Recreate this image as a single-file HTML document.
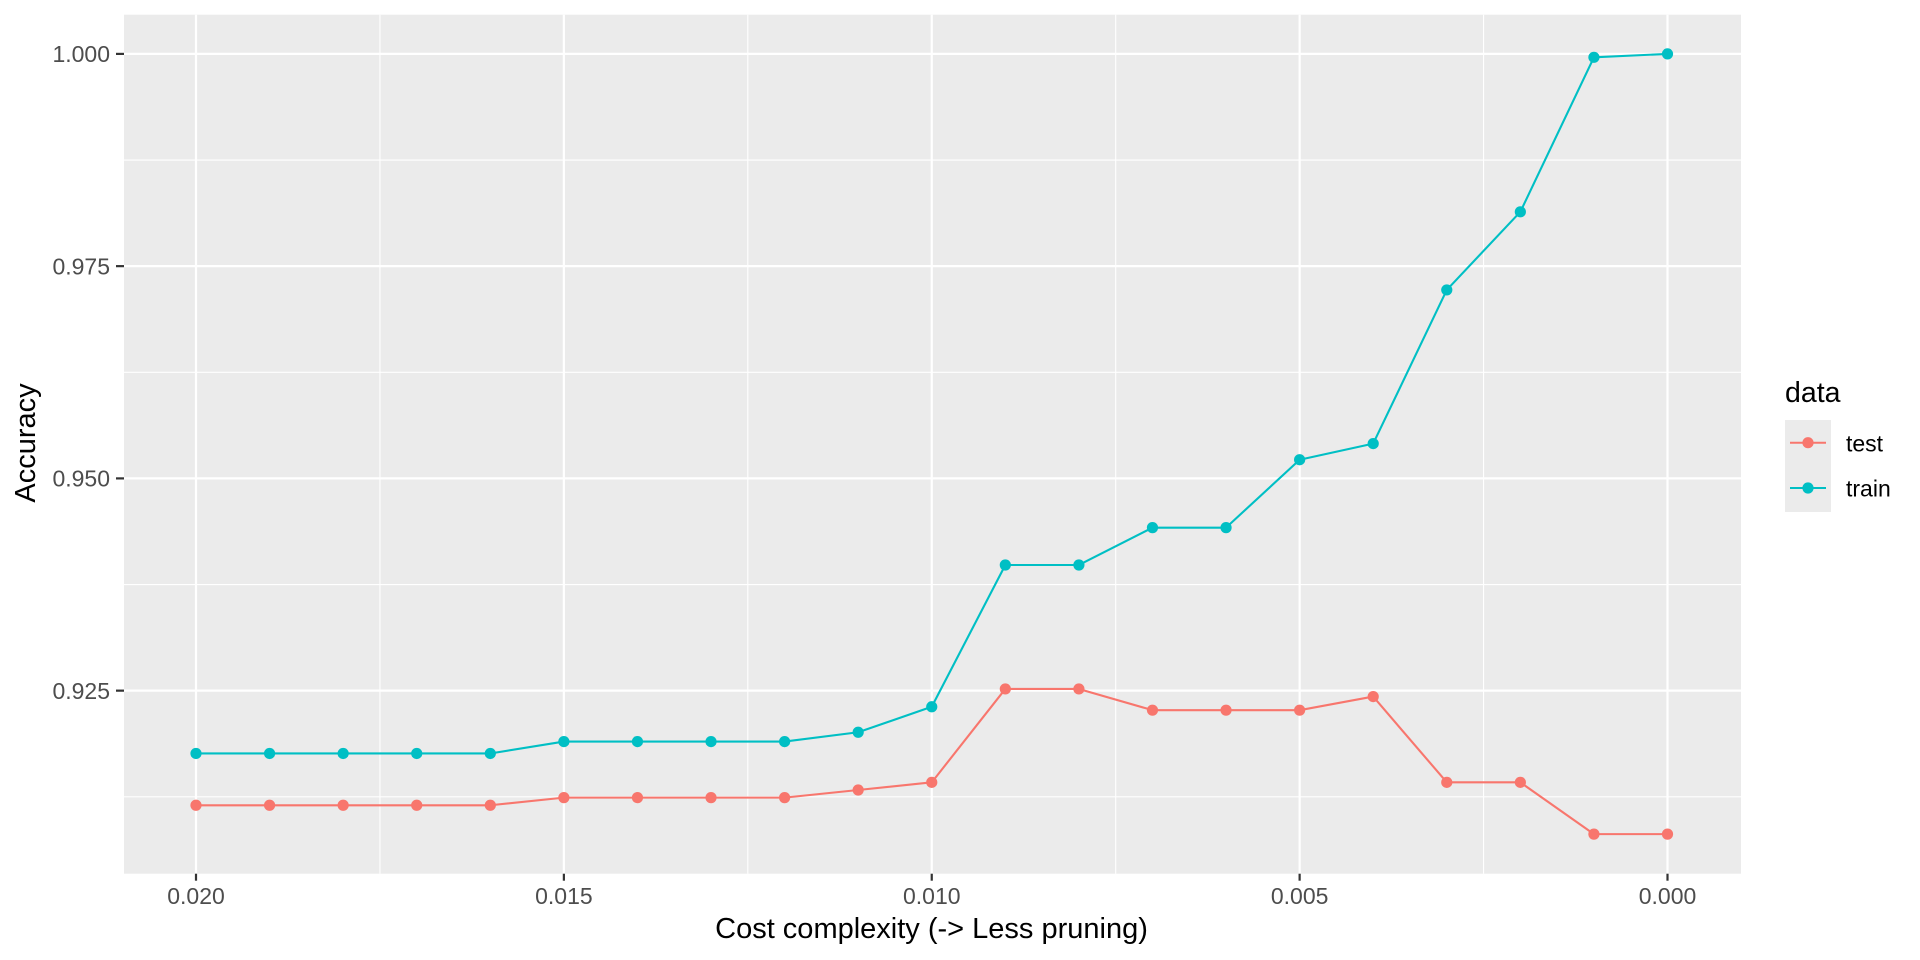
<!DOCTYPE html>
<html><head><meta charset="utf-8"><style>
html,body{margin:0;padding:0;background:#fff;width:1920px;height:960px;overflow:hidden}
svg text{font-family:"Liberation Sans",sans-serif}
</style></head><body>
<svg id="chart" width="1920" height="960" xmlns="http://www.w3.org/2000/svg">
<rect x="124" y="14.7" width="1617" height="859" fill="#EBEBEB"/>
<g id="grid"></g>
<g id="axes"></g>
<g id="series"></g>
<text x="931.5" y="938" font-size="29" text-anchor="middle" fill="#000">Cost complexity (-&gt; Less pruning)</text>
<text transform="translate(35,443) rotate(-90)" font-size="29" text-anchor="middle" fill="#000">Accuracy</text>
<g>
<text x="1785" y="402" font-size="28.5" fill="#000">data</text>
<rect x="1785" y="420" width="46" height="92" fill="#EBEBEB"/>
<g>
<line x1="1790" y1="442.7" x2="1826" y2="442.7" stroke="#F8766D" stroke-width="2"/>
<circle cx="1808" cy="442.7" r="5.6" fill="#F8766D"/>
<text x="1846" y="451.5" font-size="23" fill="#000">test</text></g>
<g>
<line x1="1790" y1="488" x2="1826" y2="488" stroke="#00BFC4" stroke-width="2"/>
<circle cx="1808" cy="488" r="5.6" fill="#00BFC4"/>
<text x="1846" y="496.5" font-size="23" fill="#000">train</text></g>
</g>
</svg>
<script>
const xValues=[0.020,0.019,0.018,0.017,0.016,0.015,0.014,0.013,0.012,0.011,0.010,0.009,0.008,0.007,0.006,0.005,0.004,0.003,0.002,0.001,0.000];
const trainValues=[0.9176,0.9176,0.9176,0.9176,0.9176,0.9190,0.9190,0.9190,0.9190,0.9201,0.9231,0.9398,0.9398,0.9442,0.9442,0.9522,0.9541,0.9722,0.9814,0.9996,1.0000];
const testValues=[0.9115,0.9115,0.9115,0.9115,0.9115,0.9124,0.9124,0.9124,0.9124,0.9133,0.9142,0.9252,0.9252,0.9227,0.9227,0.9227,0.9243,0.9142,0.9142,0.9081,0.9081];
const yTicks=[0.925,0.950,0.975,1.000];
const yTickLabels=["0.925","0.950","0.975","1.000"];
const yMinor=[0.9125,0.9375,0.9625,0.9875];
const xTicks=[0.020,0.015,0.010,0.005,0.000];
const xTickLabels=["0.020","0.015","0.010","0.005","0.000"];
const xMinor=[0.0175,0.0125,0.0075,0.0025];
const NS="http://www.w3.org/2000/svg";
const L=124,R=1741,T=14.7,B=873.7;
function xs(v){return 196+(0.020-v)/0.020*(1667.5-196);}
function ys(v){return 53.9+(1-v)*8490;}
function mk(tag,attrs,parent){const e=document.createElementNS(NS,tag);for(const k in attrs)e.setAttribute(k,attrs[k]);parent.appendChild(e);return e;}
const grid=document.getElementById('grid'),axes=document.getElementById('axes'),series=document.getElementById('series');
yMinor.forEach(v=>{const e=mk('line',{x1:L,x2:R,y1:ys(v),y2:ys(v),stroke:'#fff','stroke-width':1.1},grid);

});
xMinor.forEach(v=>{const e=mk('line',{x1:xs(v),x2:xs(v),y1:T,y2:B,stroke:'#fff','stroke-width':1.1},grid);

});
yTicks.forEach((v,i)=>{const e=mk('line',{x1:L,x2:R,y1:ys(v),y2:ys(v),stroke:'#fff','stroke-width':2.2},grid);


const t=mk('line',{x1:L-8,x2:L,y1:ys(v),y2:ys(v),stroke:'#333','stroke-width':2.2},axes);


const tx=mk('text',{x:110,y:ys(v)+8.3,'font-size':23,'text-anchor':'end',fill:'#4D4D4D'},axes);tx.textContent=yTickLabels[i];

});
xTicks.forEach((v,i)=>{const e=mk('line',{x1:xs(v),x2:xs(v),y1:T,y2:B,stroke:'#fff','stroke-width':2.2},grid);


const t=mk('line',{x1:xs(v),x2:xs(v),y1:B,y2:B+7,stroke:'#333','stroke-width':2.2},axes);


const tx=mk('text',{x:xs(v),y:904,'font-size':23,'text-anchor':'middle',fill:'#4D4D4D'},axes);tx.textContent=xTickLabels[i];

});
function drawSeries(vals,color,name){
const pts=vals.map((v,i)=>xs(xValues[i])+','+ys(v)).join(' ');
const pl=mk('polyline',{points:pts,fill:'none',stroke:color,'stroke-width':2.1,'stroke-linejoin':'round'},series);


vals.forEach((v,i)=>{const c=mk('circle',{cx:xs(xValues[i]),cy:ys(v),r:5.6,fill:color},series);

});}
drawSeries(testValues,'#F8766D','test');
drawSeries(trainValues,'#00BFC4','train');
</script>
</body></html>
